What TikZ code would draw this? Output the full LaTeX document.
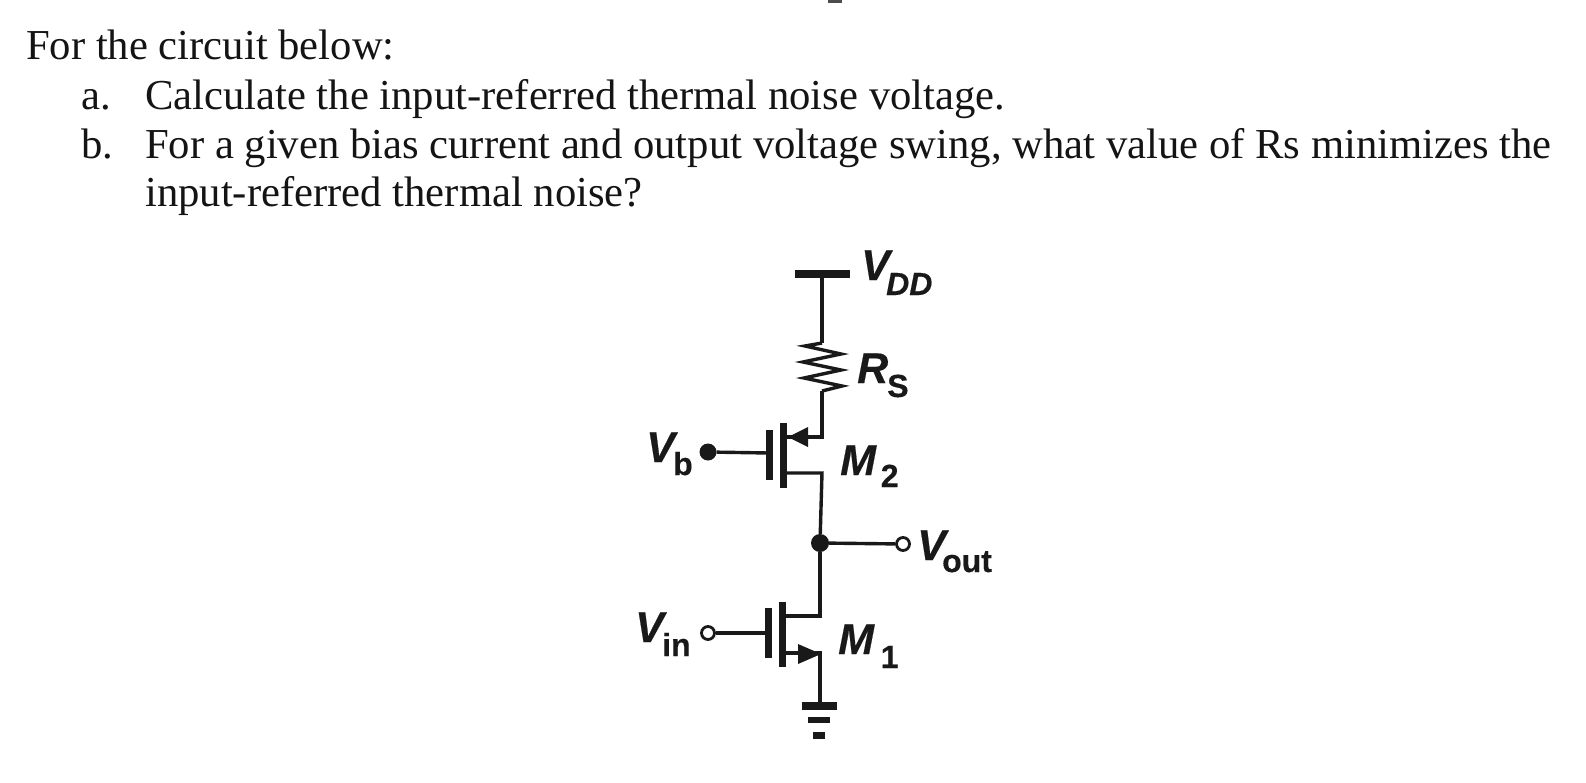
\documentclass[tikz,border=0pt]{standalone}
\usepackage{fontspec}
\setmainfont{Liberation Serif}
\newfontfamily\lblfont[FakeBold=0.4]{Liberation Sans}
\usetikzlibrary{calc}
\newcommand{\sublab}[4]{\textit{#1}\kern#2pt\raisebox{-#3pt}{\fontsize{32}{32}\selectfont #4}}
\tikzset{
  wire/.style={line width=3.4pt,black!90},
  plate/.style={line width=7pt,black!90},
  bodytext/.style={anchor=base west,inner sep=0pt,font=\fontsize{42.66}{49}\selectfont,text=black!92},
  circlbl/.style={anchor=base west,inner sep=0pt,font=\lblfont\bfseries\fontsize{43}{43}\selectfont,text=black!90},
  opendot/.style={circle,draw=black!90,fill=white,line width=2.8pt,minimum size=13pt,inner sep=0pt},
  soliddot/.style={circle,fill=black!90,inner sep=0pt},
  tipfill/.style={fill=black!90,draw=none}
}
\begin{document}
\begin{tikzpicture}[x=1pt,y=-1pt]
\useasboundingbox (0,0) rectangle (1586,782);
\fill[white] (0,0) rectangle (1586,782);
% stray mark at the top edge
\fill[black!70] (828,0) rectangle (842,3);
% text
\node[bodytext] (t1) at (26,59) {For the circuit below:};
\node[bodytext] (t2a) at (81,109) {a.};
\node[bodytext] (t2) at (145,109) {Calculate the input-referred thermal noise voltage.};
\node[bodytext] (t3a) at (81,158) {b.};
\node[bodytext] (t3) at (145,158) {For a given bias current and output voltage swing, what value of Rs minimizes the};
\node[bodytext] (t4) at (145,206) {input-referred thermal noise?};
% coordinates
\coordinate (vddL) at (795,274);
\coordinate (vddR) at (850,274);
\coordinate (vddW) at (822,274);
\coordinate (rT) at (822,343);
\coordinate (rB) at (822,391);
\coordinate (s2) at (822,437);
\coordinate (s2c) at (783,437);
\coordinate (d2c) at (783,473);
\coordinate (d2) at (822,473);
\coordinate (ch2T) at (783,423);
\coordinate (ch2B) at (783,488);
\coordinate (g2T) at (769,430);
\coordinate (g2B) at (769,480);
\coordinate (g2) at (769,453);
\coordinate (ch1T) at (782,602);
\coordinate (ch1B) at (782,667);
\coordinate (g1T) at (768,608);
\coordinate (g1B) at (768,658);
\coordinate (g1) at (768,633);
\coordinate (d1c) at (782,616);
\coordinate (d1) at (820,616);
\coordinate (s1c) at (782,653);
\coordinate (s1) at (820,653);
\coordinate (gnd) at (820,706);
\coordinate (gL1) at (802,706);
\coordinate (gR1) at (837,706);
\coordinate (gL2) at (808,720);
\coordinate (gR2) at (830,720);
\coordinate (gL3) at (813,735);
\coordinate (gR3) at (825,735);
\node[soliddot,minimum size=18pt] (out) at (820,543) {};
\node[opendot] (vout) at (903,544) {};
\node[soliddot,minimum size=17pt] (vb) at (708,452) {};
\node[opendot] (vin) at (708,633) {};
% M2 and supply
\draw[line width=8pt,black!90] (vddL) -- (vddR);
\draw[wire] (vddW) -- (rT);
\draw[wire,line join=miter] (rT) -- (805,346) -- (841,354) -- (803,362) -- (841,370) -- (804,378) -- (842,386) -- (rB);
\draw[wire] (rB) -- (s2) -- (s2c);
\draw[plate] (ch2T) -- (ch2B);
\draw[plate] (g2T) -- (g2B);
\draw[wire] (vb) -- (g2);
\draw[wire] (d2c) -- (d2) -- (out);
\fill[tipfill] (788,437) -- (808,427) -- (808,447) -- cycle;
% output
\draw[wire] (out) -- (vout);
% M1
\draw[wire] (out) -- (d1) -- (d1c);
\draw[plate] (ch1T) -- (ch1B);
\draw[plate] (g1T) -- (g1B);
\draw[wire] (vin) -- (g1);
\draw[wire] (s1c) -- (s1) -- (gnd);
\fill[tipfill] (821,654) -- (798,644) -- (798,664) -- cycle;
% ground
\draw[line width=8pt,black!90] (gL1) -- (gR1);
\draw[line width=6pt,black!90] (gL2) -- (gR2);
\draw[line width=7pt,black!90] (gL3) -- (gR3);
% labels
\node[circlbl] (lvdd) at (861,280) {\sublab{V}{-6.7}{15}{\textit{DD}}};
\node[circlbl] (lrs) at (857,383) {\sublab{R}{-1}{14}{S}};
\node[circlbl] (lvb) at (646,462) {\sublab{V}{-4.7}{13}{b}};
\node[circlbl] (lm2) at (840,475) {\sublab{M}{4}{12}{2}};
\node[circlbl] (lvo) at (917,560) {\sublab{V}{-6.7}{12}{out}};
\node[circlbl] (lvi) at (635,642) {\sublab{V}{-4.7}{14}{in}};
\node[circlbl] (lm1) at (838,654) {\sublab{M}{6}{14}{1}};
\end{tikzpicture}
\end{document}
